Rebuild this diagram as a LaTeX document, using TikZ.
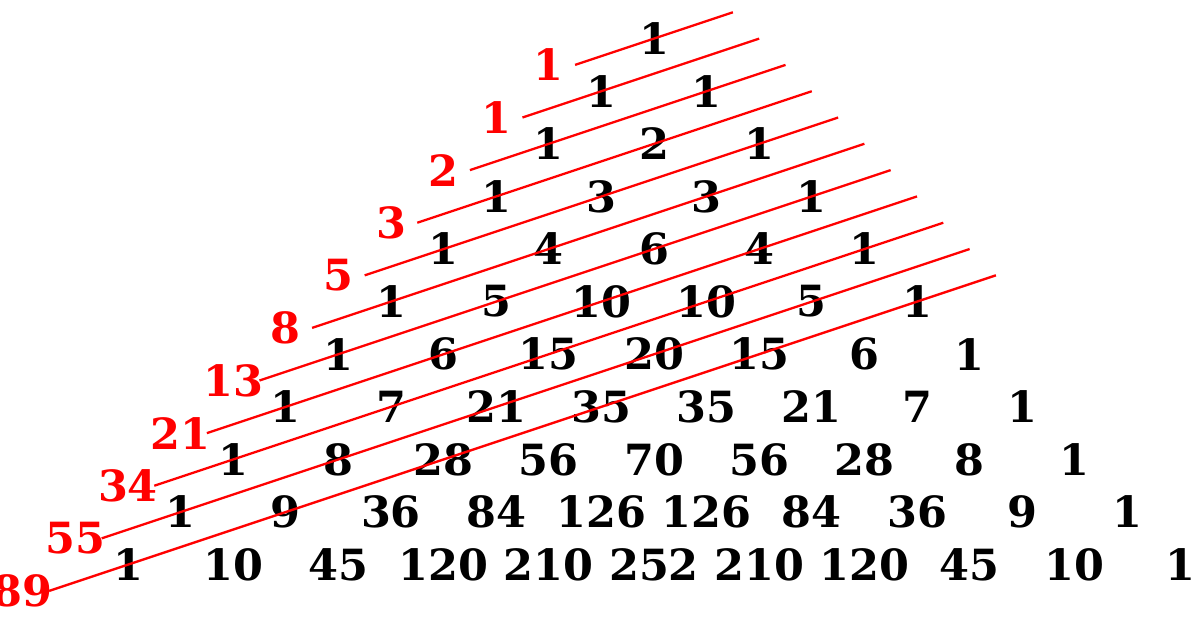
\documentclass[tikz,border=0pt]{standalone}
\usepackage{fontspec}
\setmainfont{DejaVu Serif}
\begin{document}
\begin{tikzpicture}[x=26.3pt,y=26.3pt,font=\fontsize{21.5}{25}\selectfont\bfseries,
    fib/.style={text=red},diag/.style={red,line width=1.15pt}]
    \useasboundingbox (-12.433,0.734) rectangle (10.380,-11.243);
    % pascal rows
    \foreach \row [count=\n from 0] in {{1},{1,1},{1,2,1},{1,3,3,1},{1,4,6,4,1},{1,5,10,10,5,1},
        {1,6,15,20,15,6,1},{1,7,21,35,35,21,7,1},{1,8,28,56,70,56,28,8,1},
        {1,9,36,84,126,126,84,36,9,1},{1,10,45,120,210,252,210,120,45,10,1}}
        \foreach \v [count=\k from 0] in \row
            \node (p-\n-\k) at ({2*\k-\n},-\n) {\v};
    % fibonacci diagonals
    \foreach \f [count=\i from 0] in {1,1,2,3,5,8,13,21,34,55,89} {
        \node[fib] (f-\i) at (-2-\i,-0.5-\i) {\f};
        \coordinate (s-\i) at (-1.5-\i,-0.5-\i);
        \coordinate (e-\i) at (1.5+0.5*\i,0.5-0.5*\i);
        \draw[diag] (s-\i) -- (e-\i);
    }
\end{tikzpicture}
\end{document}
